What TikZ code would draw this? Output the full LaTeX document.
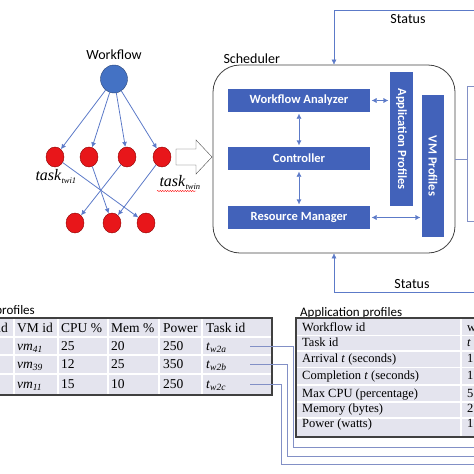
\documentclass[tikz,border=0pt]{standalone}
\usepackage{fontspec}
\setmainfont{Liberation Serif}
\newfontfamily\calfont{Carlito}
\usetikzlibrary{arrows.meta,positioning,shapes.geometric,decorations.pathmorphing}

\definecolor{boxblue}{RGB}{66,98,186}
\definecolor{lineblue}{RGB}{92,122,200}
\definecolor{grayline}{RGB}{130,144,198}
\definecolor{cellfill}{RGB}{228,228,238}
\definecolor{wfblue}{RGB}{68,114,196}
\definecolor{taskred}{RGB}{232,22,26}

\newcommand{\tasklabel}[1]{\textit{task}{\fontsize{8.5}{9}\selectfont\raisebox{-3pt}{\textit{#1}}}}

\begin{document}
\begin{tikzpicture}[x=1pt,y=-1pt, every node/.style={font=\calfont\fontsize{14}{16}\selectfont},
  >={Latex[length=5pt,width=5pt]},
  bluebox/.style={fill=boxblue, inner sep=0pt},
  boxtext/.style={text=white, font=\calfont\bfseries\fontsize{12.5}{14}\selectfont},
  taskdot/.style={ellipse, minimum width=18pt, minimum height=20pt, inner sep=0pt, fill=taskred, draw=red!55!black},
  tabtxt/.style={font=\fontsize{13.5}{15}\selectfont, inner sep=0pt, anchor=base west},
  apptxt/.style={font=\fontsize{12.5}{14}\selectfont, inner sep=0pt, anchor=base west},
  flow/.style={->, lineblue, thick}]
  \useasboundingbox (0,0) rectangle (474,474);
  \clip (0,0) rectangle (474,474);

  % workflow graph
  \node at (114,55) {Workflow};
  \node[ellipse, minimum width=27pt, minimum height=28pt, fill=wfblue, draw=wfblue!60!black] (wf) at (114,79) {};
  \foreach \x [count=\i] in {55,89,127,162}
    \node[taskdot] (t\i) at (\x,157) {};
  \foreach \x [count=\i] in {75,112,146}
    \node[taskdot] (b\i) at (\x,223) {};
  \foreach \i in {1,...,4}
    \draw[flow] (wf) -- (t\i);
  \draw[flow] (t1) -- (b3);
  \draw[flow] (t2) -- (b2);
  \draw[flow] (t3) -- (b1);
  \draw[flow] (t4) -- (b2);
  \node[anchor=base west, font=\fontsize{16}{18}\selectfont] (lab1) at (32,180) {\tasklabel{twi1}};
  \node[anchor=base west, font=\fontsize{16}{18}\selectfont] (labn) at (156,186) {\tasklabel{twin}};
  \draw[red, decorate, decoration={snake, amplitude=0.6pt, segment length=2.5pt}] (157,191) -- (196,191);

  % hollow arrow into the scheduler
  \draw[black!70, fill=white] (176,149) -- (196,149) -- (196,140) -- (212,157) -- (196,174) -- (196,165) -- (176,165) -- cycle;

  % scheduler
  \node[anchor=base west] at (220,63) {Scheduler};
  \node[draw=black!75, line width=0.8pt, rounded corners=27pt, minimum width=242pt, minimum height=188pt] (sched) at (334,159) {};
  \node[bluebox, minimum width=142pt, minimum height=23pt] (wa) at (299,100.5) {};
  \node[boxtext] at (wa) {Workflow Analyzer};
  \node[bluebox, minimum width=142pt, minimum height=23pt] (ctrl) at (299,158.5) {};
  \node[boxtext] at (ctrl) {Controller};
  \node[bluebox, minimum width=142pt, minimum height=23pt] (rm) at (299,217.5) {};
  \node[boxtext] at (rm) {Resource Manager};
  \node[bluebox, minimum width=23pt, minimum height=134pt] (appprof) at (401.5,139) {};
  \node[boxtext, rotate=-90] at (appprof) {Application Profiles};
  \node[bluebox, minimum width=22pt, minimum height=142pt] (vmprof) at (433,166) {};
  \node[boxtext, rotate=-90] at (vmprof) {VM Profiles};
  \draw[<->, lineblue] ([xshift=1.5pt]wa.east) -- ([xshift=-1.5pt]wa.east -| appprof.west);
  \draw[<->, lineblue] ([yshift=-1.5pt]wa.south) -- ([yshift=1.5pt]ctrl.north);
  \draw[<->, lineblue] ([yshift=-1.5pt]ctrl.south) -- ([yshift=1.5pt]rm.north);
  \draw[<->, lineblue] ([xshift=1.5pt]rm.east) -- ([xshift=-1.5pt]rm.east -| vmprof.west);

  % status loops
  \coordinate (stop) at (474,10);
  \coordinate (sbot) at (474,292);
  \draw[->, lineblue] (stop) -| (sched.north);
  \draw[->, lineblue] (sbot) -| (sched.south);
  \node at (408,19) {Status};
  \node at (412,284) {Status};
  \coordinate (rb1) at (474,86);
  \coordinate (rb2) at (474,221);
  \coordinate (rbl) at (467,159);
  \draw[grayline] (rb1) -- (467,86) -- (467,221) -- (rb2);
  \draw[grayline] (sched.east) -- (rbl);

  % vm profiles table
  \node[anchor=base east, font=\calfont\fontsize{13}{15}\selectfont, inner sep=0pt] at (35,314) {VM profiles};
  \fill[cellfill] (-5,318) rectangle (272,395);
  \foreach \y in {337,355,374}
    \draw[white, line width=1.2pt] (-5,\y) -- (272,\y);
  \foreach \x in {14,58,108,159,202}
    \draw[white, line width=1.2pt] (\x,318) -- (\x,395);
  \draw[black!75, line width=1.5pt] (-5,318) rectangle (272,395);
  \node[tabtxt, anchor=base east] at (8,332) {Host id};
  \foreach \x/\t in {17/VM id, 61/CPU \%, 111/Mem \%, 163/Power, 206/Task id}
    \node[tabtxt] at (\x,332) {\t};
  \foreach \y/\vm/\cpu/\mem/\pw/\tk in {350/41/25/20/250/a, 368/39/12/25/350/b, 388/11/15/10/250/c}{
    \node[tabtxt] at (17,\y) {\textit{vm}\textsubscript{\textit{\vm}}};
    \node[tabtxt] at (61,\y) {\cpu};
    \node[tabtxt] at (111,\y) {\mem};
    \node[tabtxt] at (163,\y) {\pw};
    \node[tabtxt, text width=44pt, text height=10pt, text depth=2pt] (tk\tk) at (206,\y) {\textit{t}\textsubscript{\textit{w2\tk}}};
  }

  % application profiles table
  \node[anchor=base west, font=\calfont\fontsize{13}{15}\selectfont, inner sep=0pt] at (300,316) {Application profiles};
  \fill[cellfill] (296,318) rectangle (480,437);
  \foreach \y in {335.5,351,367.5,385,402,418}
    \draw[white, line width=1.2pt] (296,\y) -- (480,\y);
  \draw[white, line width=1.2pt] (461,318) -- (461,437);
  \draw[black!75, line width=1.5pt] (296,318) rectangle (480,437);
  \foreach \y/\t/\v in {331/Workflow id/w, 346/Task id/\textit{t}, 362/Arrival \textit{t} (seconds)/1,
      379/Completion \textit{t} (seconds)/1, 397/Max CPU (percentage)/5, 412/Memory (bytes)/2, 427/Power (watts)/1}{
    \node[apptxt] at (302,\y) {\t};
    \node[apptxt] at (467,\y) {\v};
  }

  % task id links
  \coordinate (ea) at (474,447);
  \coordinate (eb) at (474,456);
  \coordinate (ec) at (474,464);
  \draw[grayline] (tka.east) -| (293,447) -- (ea);
  \draw[grayline] (tkb.east) -| (287,456) -- (eb);
  \draw[grayline] (tkc.east) -| (281,464) -- (ec);
\end{tikzpicture}
\end{document}
